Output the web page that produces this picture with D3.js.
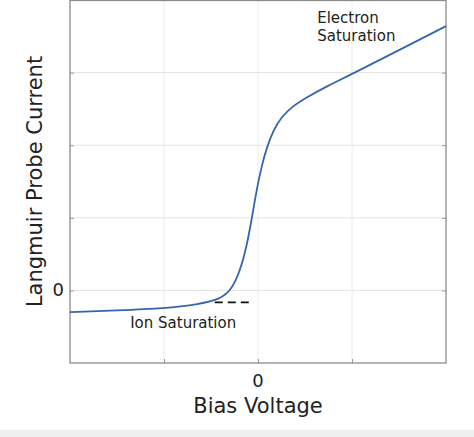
<!DOCTYPE html>
<html>
<head>
<meta charset="utf-8">
<script src="https://cdn.jsdelivr.net/npm/d3@7"></script>
<style>
body { margin: 0; background: #fff; }
text { font-family: "DejaVu Sans", sans-serif; fill: #222; }
</style>
</head>
<body>
<div id="chart"></div>
<script>
// bias voltage / probe current samples (arbitrary units)
const voltage = [-2, -1.5, -1, -0.62, -0.4, -0.28, -0.19, -0.12, -0.067, -0.014, 0.04, 0.092, 0.16, 0.25, 0.36, 0.52, 0.73, 1, 1.5, 2];
const current = [-0.30, -0.275, -0.25, -0.19, -0.12, 0.01, 0.27, 0.61, 0.98, 1.39, 1.72, 1.96, 2.20, 2.39, 2.53, 2.66, 2.81, 2.98, 3.31, 3.64];
const xTicks = [-1, 0, 1];
const yTicks = [0, 1, 2, 3, 4];
const ionLevel = { x0: -0.46, x1: -0.05, y: -0.165 };

const width = 474, height = 437;
const margin = { top: 0, left: 70, right: 28, bottom: 74 };
const plotW = width - margin.left - margin.right;
const plotH = height - margin.top - margin.bottom;

const svg = d3.select('#chart').append('svg')
    .attr('width', width)
    .attr('height', height);

// grey strip along the bottom of the figure
svg.append('rect')
    .attr('x', 0).attr('y', 430)
    .attr('width', width).attr('height', 7)
    .style('fill', '#efefef');

const x = d3.scaleLinear().domain([-2, 2]).range([0, plotW]);
const y = d3.scaleLinear().domain([-1, 4]).range([plotH, 0]);

const plot = svg.append('g')
    .attr('transform', `translate(${margin.left},${margin.top})`);

// grid
plot.selectAll('.xgrid').data(xTicks).enter().append('line')
    .attr('x1', d => x(d)).attr('x2', d => x(d))
    .attr('y1', 0).attr('y2', plotH)
    .style('stroke', '#ececec');
plot.selectAll('.ygrid').data(yTicks).enter().append('line')
    .attr('y1', d => y(d)).attr('y2', d => y(d))
    .attr('x1', 0).attr('x2', plotW)
    .style('stroke', '#e4e4e4');

// inward tick marks on all sides
plot.append('g').call(d3.axisBottom(x).tickValues(xTicks).tickSize(-4).tickFormat(''))
    .attr('transform', `translate(0,${plotH})`);
plot.append('g').call(d3.axisLeft(y).tickValues(yTicks).tickSize(-4).tickFormat(''));
plot.append('g').call(d3.axisRight(y).tickValues(yTicks).tickSize(-4).tickFormat(''))
    .attr('transform', `translate(${plotW},0)`);
plot.selectAll('.domain').remove();
plot.selectAll('.tick line').style('stroke', '#999');

// frame
plot.append('rect')
    .attr('x', 0).attr('y', 0.5)
    .attr('width', plotW).attr('height', plotH - 0.5)
    .style('fill', 'none')
    .style('stroke', '#8c8c8c')
    .style('stroke-width', 1.3);

// I-V curve (basis spline smooths out reading noise)
const pts = voltage.map((v, i) => [v, current[i]]);
plot.append('path')
    .datum(pts)
    .attr('d', d3.line().curve(d3.curveBasis).x(d => x(d[0])).y(d => y(d[1])))
    .style('fill', 'none')
    .style('stroke', '#3565b0')
    .style('stroke-width', 1.8);

// ion saturation level
plot.append('line')
    .attr('x1', x(ionLevel.x0)).attr('x2', x(ionLevel.x1))
    .attr('y1', y(ionLevel.y)).attr('y2', y(ionLevel.y))
    .style('stroke', '#111')
    .style('stroke-width', 1.8)
    .style('stroke-dasharray', '8,5');

// annotations
plot.append('text')
    .attr('x', x(-1.36)).attr('y', y(-0.52))
    .style('font-size', '15px')
    .text('Ion Saturation');
const elec = plot.append('text')
    .attr('x', x(0.63)).attr('y', y(3.69))
    .style('font-size', '15px');
elec.append('tspan').text('Electron');
elec.append('tspan').attr('x', x(0.63)).attr('dy', 18).text('Saturation');

// tick labels
svg.append('text')
    .attr('x', margin.left + x(0)).attr('y', margin.top + plotH + 24)
    .attr('text-anchor', 'middle')
    .style('font-size', '18px')
    .text('0');
svg.append('text')
    .attr('x', margin.left - 6).attr('y', margin.top + y(0) + 6)
    .attr('text-anchor', 'end')
    .style('font-size', '18px')
    .text('0');

// axis titles
svg.append('text')
    .attr('x', margin.left + x(0)).attr('y', margin.top + plotH + 50)
    .attr('text-anchor', 'middle')
    .style('font-size', '21px')
    .text('Bias Voltage');
svg.append('text')
    .attr('transform', `translate(42,${margin.top + y(1.5)}) rotate(-90)`)
    .attr('text-anchor', 'middle')
    .style('font-size', '21px')
    .text('Langmuir Probe Current');
</script>
</body>
</html>
